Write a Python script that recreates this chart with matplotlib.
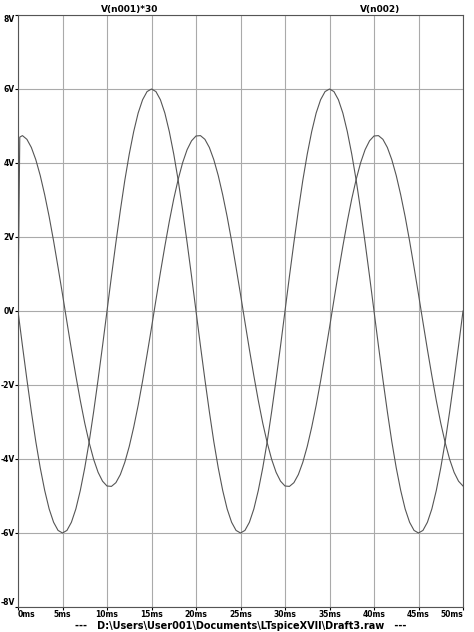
import numpy as np
import matplotlib
matplotlib.use("Agg")
import matplotlib.pyplot as plt

va_period = [0, -0.94, -1.85, -2.72, -3.53, -4.24, -4.85, -5.35, -5.71, -5.93,
             -6, -5.93, -5.71, -5.35, -4.85, -4.24, -3.53, -2.72, -1.85, -0.94,
             0, 0.94, 1.85, 2.72, 3.53, 4.24, 4.85, 5.35, 5.71, 5.93,
             6, 5.93, 5.71, 5.35, 4.85, 4.24, 3.53, 2.72, 1.85, 0.94]
vb_period = [4.73, 4.74, 4.64, 4.42, 4.09, 3.66, 3.14, 2.55, 1.89, 1.18,
             0.45, -0.30, -1.04, -1.75, -2.42, -3.03, -3.56, -4.01, -4.36, -4.60,
             -4.73, -4.74, -4.64, -4.42, -4.09, -3.66, -3.14, -2.55, -1.89, -1.18,
             -0.45, 0.30, 1.04, 1.75, 2.42, 3.03, 3.56, 4.01, 4.36, 4.60]
vb_start = [0.0, 4.70]   # turn-on transient at 0 ms and 0.2 ms

xticks = [0, 5, 10, 15, 20, 25, 30, 35, 40, 45, 50]
yticks = [-8, -6, -4, -2, 0, 2, 4, 6, 8]

t = np.arange(101) * 0.5
va = np.array((va_period * 3)[:101])
vb_tail = np.array((vb_period * 3)[1:101])
tb = np.concatenate([[0, 0.2], t[1:]])
vb = np.concatenate([vb_start, vb_tail])

fig = plt.figure(figsize=(4.74, 6.32), dpi=100)
ax = fig.add_axes([18 / 474, 25 / 632, 445 / 474, 592 / 632])
ax.plot(t, va, color="#555555", lw=0.8)
ax.plot(tb, vb, color="#555555", lw=0.8)
ax.set_xlim(0, 50)
ax.set_ylim(-8, 8)
ax.set_xticks(xticks)
ax.set_xticklabels([f"{x}ms" for x in xticks])
ax.set_yticks(yticks)
ax.set_yticklabels([f"{y}V" for y in yticks])
ax.grid(True, color="#aaaaaa", lw=0.8)
ax.tick_params(labelsize=5.5, length=2, pad=0.5)
for lab in ax.get_xticklabels() + ax.get_yticklabels():
    lab.set_fontweight("bold")
xl = ax.get_xticklabels()
xl[-1].set_horizontalalignment("right")
xl[0].set_horizontalalignment("left")
yl = ax.get_yticklabels()
yl[0].set_verticalalignment("bottom")
yl[-1].set_verticalalignment("top")
for s in ax.spines.values():
    s.set_color("#555555")
ax.set_xlabel(r"---   D:\Users\User001\Documents\LTspiceXVII\Draft3.raw   ---",
              fontsize=7, fontweight="bold", labelpad=1)
fig.text(130 / 474, 627 / 632, "V(n001)*30", fontsize=6.5, fontweight="bold", ha="center", va="top")
fig.text(380 / 474, 627 / 632, "V(n002)", fontsize=6.5, fontweight="bold", ha="center", va="top")
fig.savefig("out.png", dpi=100)
